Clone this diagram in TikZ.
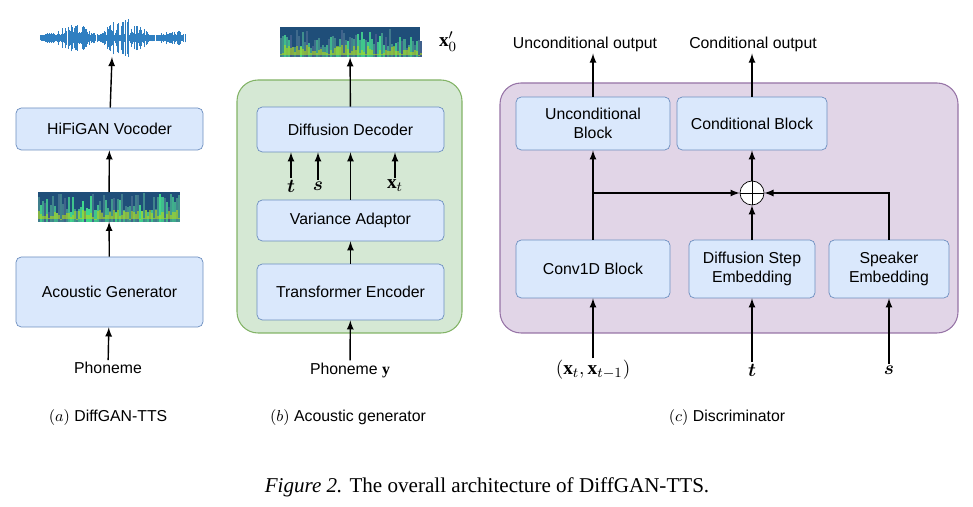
\documentclass[tikz,border=0pt]{standalone}
\usepackage{amsmath}
\usepackage{amssymb}
\usepackage{fontspec}
\setmainfont{Liberation Serif}
\newfontfamily\boxfont{Liberation Sans}
\usepackage{tikz}
\tikzset{>=latex}
\usetikzlibrary{calc}
\definecolor{boxfill}{HTML}{DAE8FC}
\definecolor{boxline}{HTML}{6C8EBF}
\definecolor{greenfill}{HTML}{D5E8D4}
\definecolor{greenline}{HTML}{82B366}
\definecolor{purplefill}{HTML}{E1D5E7}
\definecolor{purpleline}{HTML}{9673A6}
\definecolor{wavecol}{HTML}{2F7FC1}
\definecolor{specbase}{HTML}{1F4E79}
\tikzset{
  block/.style={draw=boxline, fill=boxfill, rounded corners=3pt, align=center,
    font=\boxfont\fontsize{9}{10.5}\selectfont, inner sep=2pt},
  panel/.style={rounded corners=12pt, line width=0.6pt},
  spec/.style={fill=specbase, inner sep=0pt, minimum width=2.84cm, minimum height=0.58cm},
  lbl/.style={font=\boxfont\fontsize{9}{10.5}\selectfont, inner sep=1pt},
  mathlbl/.style={font=\fontsize{11}{12}\selectfont, inner sep=1pt},
  capt/.style={font=\boxfont\fontsize{9}{10.5}\selectfont},
  arr/.style={->, thick}
}
% spectrogram stripes inside a node
\newcommand{\specstripes}[1]{%
  \foreach \i in {0,...,69} {
    \pgfmathsetmacro\gv{0.35+0.5*rnd}
    \pgfmathsetmacro\hv{0.58*(0.3+0.7*rnd)}
    \fill[fill={rgb,1:red,0.25;green,\gv;blue,0.55}]
      ($(#1.south west)+(\i*0.0406,0)$) rectangle ++(0.0406,\hv);
    \pgfmathsetmacro\hw{0.2*rnd}
    \fill[yellow!70!green, opacity=0.6]
      ($(#1.south west)+(\i*0.0406,0.05)$) rectangle ++(0.0406,\hw);
  }
}
\begin{document}
\begin{tikzpicture}
  \pgfmathsetseed{7}
  \useasboundingbox (0,0) rectangle (19.46,10.14);

  % backgrounds of panels (b) and (c)
  \draw[panel, draw=greenline, fill=greenfill] (4.74,3.48) rectangle (9.24,8.54);
  \draw[panel, draw=purpleline, fill=purplefill] (10.0,3.48) rectangle (19.16,8.48);

  % (a) DiffGAN-TTS
  \coordinate (wave) at (2.24,9.0);
  \foreach \i in {0,...,140} {
    \pgfmathsetmacro\amp{0.05+0.4*rnd*abs(sin(\i*3.2))*(1-abs(\i-70)/90)}
    \draw[wavecol, line width=0.5pt] (0.8+\i*0.0207,9.38-\amp) -- (0.8+\i*0.0207,9.38+\amp);
  }
  \node[block, minimum width=3.74cm, minimum height=0.84cm] (hifi) at (2.19,7.56) {HiFiGAN Vocoder};
  \node[spec] (speca) at (2.18,6.0) {};
  \specstripes{speca}
  \node[block, minimum width=3.74cm, minimum height=1.4cm] (acgen) at (2.19,4.3) {Acoustic Generator};
  \node[lbl] (phon) at (2.16,2.78) {Phoneme};
  \node[capt] at (2.16,1.78) {$(a)$ DiffGAN-TTS};
  \draw[arr] (phon) -- (acgen);
  \draw[arr] (acgen) -- (speca);
  \draw[arr] (speca) -- (hifi);
  \draw[arr] (hifi) -- (wave);

  % (b) Acoustic generator
  \node[spec, minimum width=2.8cm, minimum height=0.6cm] (specb) at (7.0,9.3) {};
  \specstripes{specb}
  \node[mathlbl] at (8.96,9.3) {$\mathbf{x}'_0$};
  \node[block, minimum width=3.74cm, minimum height=0.9cm] (dec) at (7.01,7.55) {Diffusion Decoder};
  \node[block, minimum width=3.74cm, minimum height=0.82cm] (var) at (7.01,5.73) {Variance Adaptor};
  \node[block, minimum width=3.74cm, minimum height=1.12cm] (enc) at (7.01,4.3) {Transformer Encoder};
  \node[mathlbl] (tb) at (5.82,6.42) {$\boldsymbol{t}$};
  \node[mathlbl] (sb) at (6.36,6.42) {$\boldsymbol{s}$};
  \node[mathlbl] (xt) at (7.9,6.42) {$\mathbf{x}_t$};
  \node[lbl] (phony) at (7.0,2.74) {Phoneme $\mathbf{y}$};
  \node[capt] at (6.96,1.78) {$(b)$ Acoustic generator};
  \draw[arr] (phony) -- (enc);
  \draw[arr] (enc) -- (var);
  \draw[arr] (var) -- (dec);
  \foreach \n in {tb,sb,xt}
    \draw[arr] (\n.north) -- (\n.north |- dec.south);
  \draw[arr] (dec) -- (specb);

  % (c) Discriminator
  \node[block, minimum width=3.08cm, minimum height=1.06cm] (ublock) at (11.86,7.67) {Unconditional\\Block};
  \node[block, minimum width=3.0cm, minimum height=1.06cm] (cblock) at (15.04,7.67) {Conditional Block};
  \node[block, minimum width=3.08cm, minimum height=1.16cm] (conv) at (11.86,4.76) {Conv1D Block};
  \node[block, minimum width=2.52cm, minimum height=1.16cm] (step) at (15.04,4.76) {Diffusion Step\\Embedding};
  \node[block, minimum width=2.4cm, minimum height=1.16cm] (spk) at (17.78,4.76) {Speaker\\Embedding};
  \node[draw, circle, fill=white, minimum size=0.48cm, inner sep=0pt] (plus) at (15.04,6.28) {};
  \draw (plus.north) -- (plus.south) (plus.west) -- (plus.east);
  \node[lbl] (uout) at (11.7,9.26) {Unconditional output};
  \node[lbl] (cout) at (15.06,9.26) {Conditional output};
  \node[mathlbl] (xin) at (11.86,2.74) {$(\mathbf{x}_t, \mathbf{x}_{t-1})$};
  \node[mathlbl] (tin) at (15.04,2.74) {$\boldsymbol{t}$};
  \node[mathlbl] (sin) at (17.78,2.74) {$\boldsymbol{s}$};
  \node[capt] at (14.54,1.78) {$(c)$ Discriminator};
  \draw[arr] (xin) -- (conv);
  \draw[arr] (tin) -- (step);
  \draw[arr] (sin) -- (spk);
  \draw[arr] (conv) -- (ublock);
  \draw[arr] (conv.north |- plus) -- (plus.west);
  \draw[arr] (step) -- (plus);
  \draw[arr] (spk.north) |- (plus.east);
  \draw[arr] (plus) -- (cblock);
  \draw[arr] (ublock.north) -- (ublock.north |- uout.south);
  \draw[arr] (cblock.north) -- (cblock.north |- cout.south);

  % figure caption
  \node[font=\fontsize{12}{14}\selectfont] at (9.74,0.4) {\textit{Figure 2.} The overall architecture of DiffGAN-TTS.};
\end{tikzpicture}
\end{document}
